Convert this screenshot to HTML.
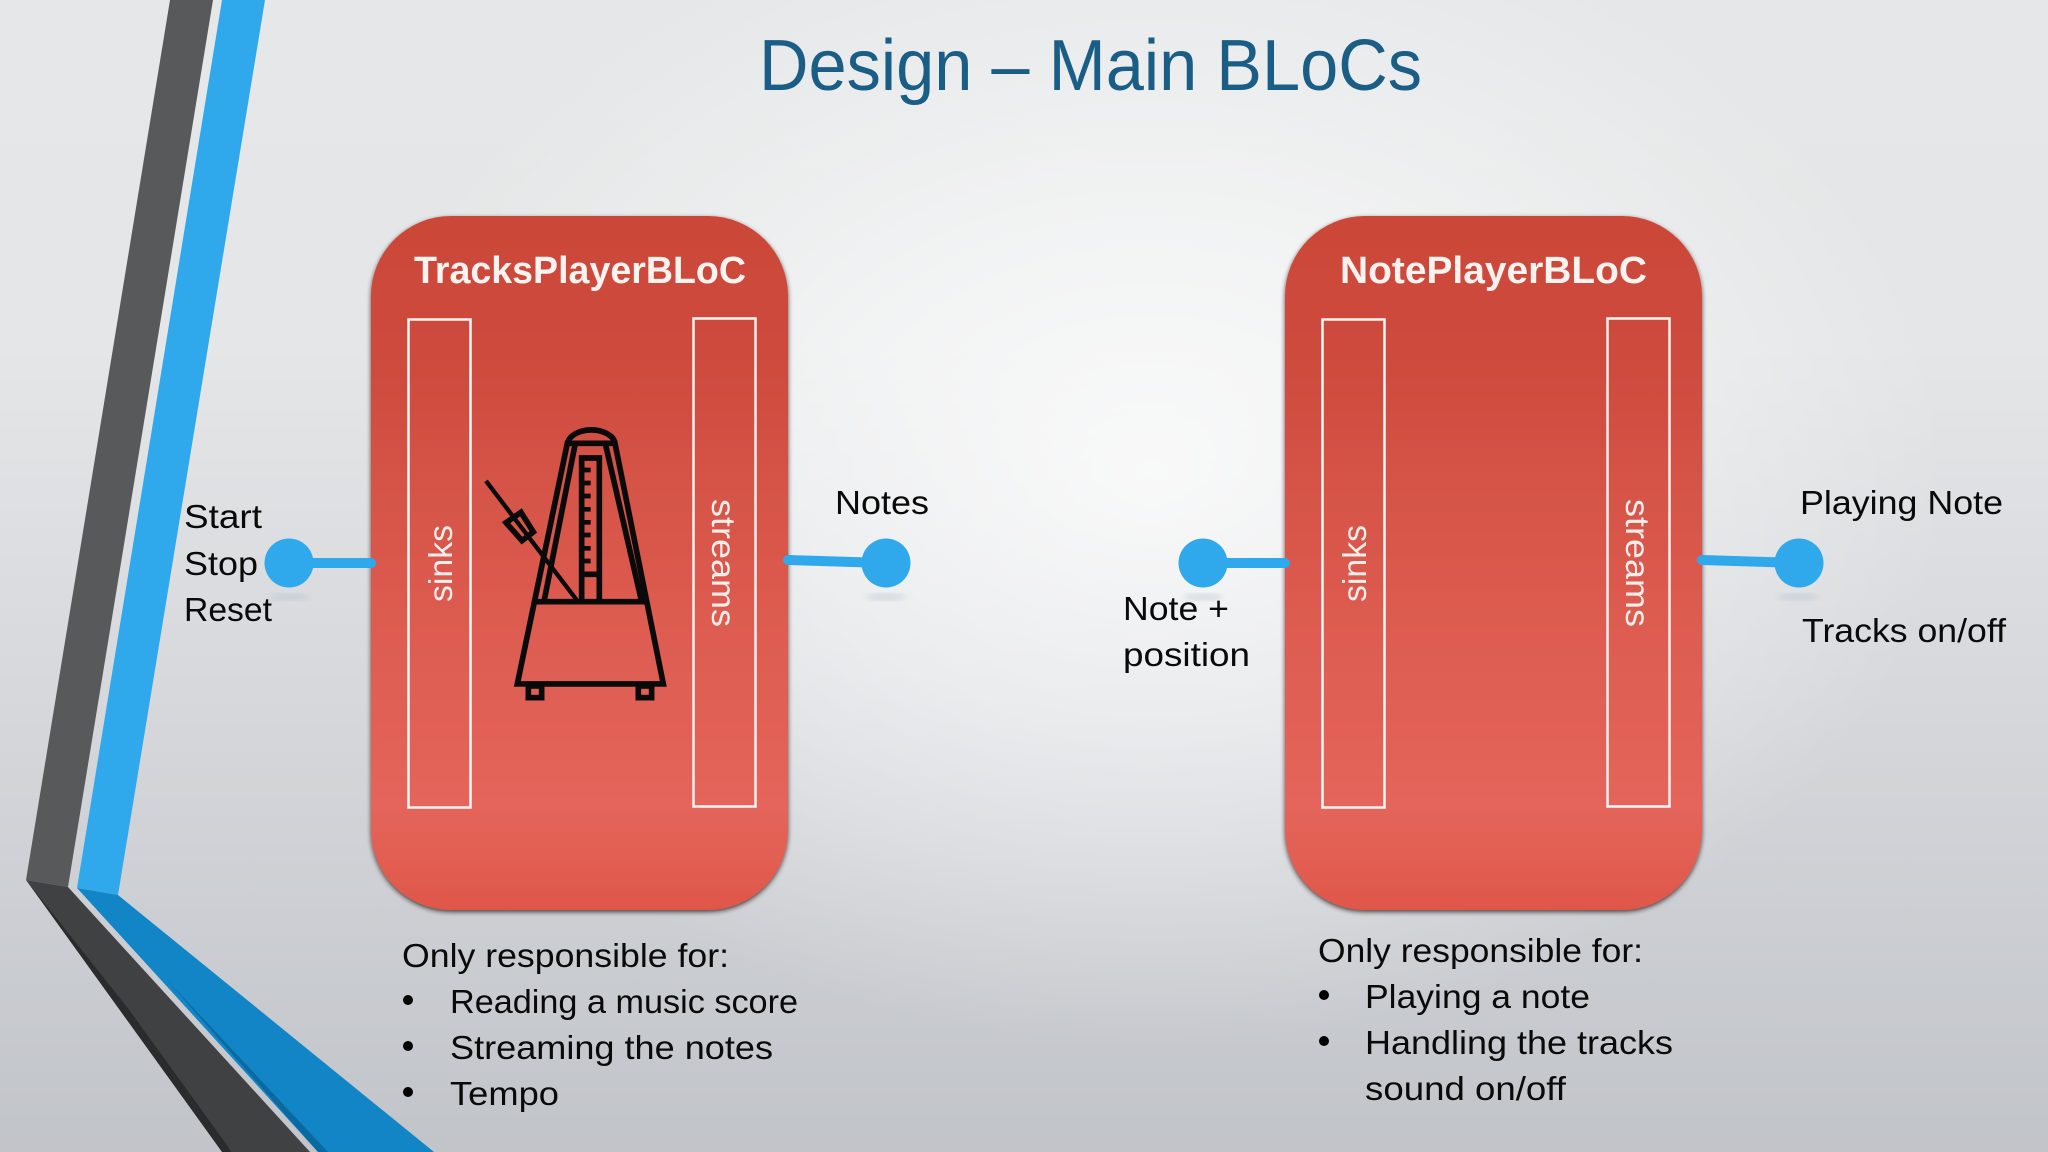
<!DOCTYPE html>
<html><head><meta charset="utf-8"><style>
html,body{margin:0;padding:0;background:#e0e2e4}
svg{display:block}
text{font-family:"Liberation Sans",sans-serif}
.b{font-size:33px;fill:#0a0a0a}
.w{font-size:33px;fill:#f8efec}
</style></head><body>
<svg width="2048" height="1152" viewBox="0 0 2048 1152" xmlns="http://www.w3.org/2000/svg">
<defs>
<linearGradient id="bg0" x1="0" y1="0" x2="0" y2="1">
<stop offset="0" stop-color="#e5e7e8"/><stop offset=".3" stop-color="#e4e6e7"/><stop offset=".6" stop-color="#d6d8dc"/><stop offset="1" stop-color="#c1c4c9"/></linearGradient>
<radialGradient id="bg" gradientUnits="userSpaceOnUse" cx="1150" cy="470" r="800" gradientTransform="translate(1150 470) scale(1 .72) translate(-1150 -470)">
<stop offset="0" stop-color="#fff" stop-opacity=".8"/><stop offset=".45" stop-color="#fff" stop-opacity=".5"/><stop offset="1" stop-color="#fff" stop-opacity="0"/></radialGradient>
<linearGradient id="card" x1="0" y1="0" x2="0" y2="1">
<stop offset="0" stop-color="#cb4638"/><stop offset=".2" stop-color="#cd4b3d"/><stop offset=".55" stop-color="#dc5a4f"/><stop offset=".85" stop-color="#e5655b"/><stop offset="1" stop-color="#df5749"/></linearGradient>
<filter id="sh" x="-10%" y="-10%" width="120%" height="120%"><feDropShadow dx="0" dy="2" stdDeviation="2.5" flood-color="#2a1515" flood-opacity=".8"/></filter>
<filter id="bl"><feGaussianBlur stdDeviation="3"/></filter>
<g id="mt" fill="none" stroke="#0a0a0a" stroke-width="17" stroke-linejoin="miter">
<path d="M172 852H610L465 130H322Z"/>
<path d="M323 128A72 46 0 0 1 465 128"/>
<path d="M225 605H560"/>
<path d="M345 135L252 605M437 135L545 605"/>
<path d="M365 605V174H418V605M365 523H418"/>
<path d="M368 210H392M368 249H392M368 288H392M368 328H392M368 367H392M368 405H392M368 445H392M368 483H392" stroke-width="14"/>
<path d="M78 243L350 600" stroke-width="13"/>
<path d="M183 337L220 396L186 422L138 368Z"/>
<rect x="205" y="858" width="40" height="35"/>
<rect x="535" y="858" width="40" height="35"/>
</g>
</defs>
<rect width="2048" height="1152" fill="url(#bg0)"/>
<rect width="2048" height="1152" fill="url(#bg)"/>
<polygon points="170,0 213,0 68,887 26,880" fill="#58595b"/>
<polygon points="222,0 265,0 118,895 77,888" fill="#2fa9ec"/>
<polygon points="26,880 68,887 310,1152 232,1152" fill="#404143"/>
<polygon points="26,880 127,1007 232,1152 222,1152" fill="#2a2b2d"/>
<polygon points="77,888 118,895 434,1152 318,1152" fill="#1285c6"/>
<polygon points="167,980 328,1152 318,1152" fill="#0a6a9f"/>

<text x="759" y="90" font-size="72" fill="#1a5e86" textLength="663" lengthAdjust="spacingAndGlyphs">Design – Main BLoCs</text>

<rect x="371" y="216" width="417" height="694" rx="80" fill="url(#card)" filter="url(#sh)"/>
<rect x="1285" y="216" width="417" height="694" rx="80" fill="url(#card)" filter="url(#sh)"/>

<text x="414" y="283" font-size="38" font-weight="bold" fill="#fbf3f0" textLength="332" lengthAdjust="spacingAndGlyphs">TracksPlayerBLoC</text>
<text x="1340" y="283" font-size="38" font-weight="bold" fill="#fbf3f0" textLength="307" lengthAdjust="spacingAndGlyphs">NotePlayerBLoC</text>

<g fill="none" stroke="#fdf6f4" stroke-width="2.5">
<rect x="408.5" y="319.5" width="62" height="488"/>
<rect x="693.5" y="318.5" width="62" height="488"/>
<rect x="1322.5" y="319.5" width="62" height="488"/>
<rect x="1607.5" y="318.5" width="62" height="488"/>
</g>

<text class="w" transform="translate(452 602) rotate(-90)" textLength="77" lengthAdjust="spacingAndGlyphs">sinks</text>
<text class="w" transform="translate(712 499) rotate(90)" textLength="128" lengthAdjust="spacingAndGlyphs">streams</text>
<text class="w" transform="translate(1366 602) rotate(-90)" textLength="77" lengthAdjust="spacingAndGlyphs">sinks</text>
<text class="w" transform="translate(1626 499) rotate(90)" textLength="128" lengthAdjust="spacingAndGlyphs">streams</text>

<use href="#mt" transform="translate(460 400) scale(.3333)"/>

<g fill="#a9bccb" opacity=".4" filter="url(#bl)">
<ellipse cx="289" cy="597" rx="20" ry="3.5"/><ellipse cx="886" cy="597" rx="20" ry="3.5"/>
<ellipse cx="1203" cy="597" rx="20" ry="3.5"/><ellipse cx="1798" cy="597" rx="20" ry="3.5"/>
</g>
<g stroke="#2fa9ec" stroke-width="10" stroke-linecap="round" fill="none">
<path d="M289 563H371"/><path d="M788 560L885 563"/>
<path d="M1203 563H1285"/><path d="M1702 560L1798 563"/>
</g>
<g fill="#2fa9ec">
<circle cx="289" cy="563" r="24.5"/><circle cx="886" cy="563" r="24.5"/>
<circle cx="1203" cy="563" r="24.5"/><circle cx="1799" cy="563" r="24.5"/>
</g>

<text class="b" x="184" y="528" textLength="78" lengthAdjust="spacingAndGlyphs">Start</text>
<text class="b" x="184" y="575" textLength="74" lengthAdjust="spacingAndGlyphs">Stop</text>
<text class="b" x="184" y="621" textLength="88" lengthAdjust="spacingAndGlyphs">Reset</text>
<text class="b" x="835" y="514" textLength="94" lengthAdjust="spacingAndGlyphs">Notes</text>
<text class="b" x="1123" y="620" textLength="106" lengthAdjust="spacingAndGlyphs">Note +</text>
<text class="b" x="1123" y="666" textLength="127" lengthAdjust="spacingAndGlyphs">position</text>
<text class="b" x="1800" y="514" textLength="203" lengthAdjust="spacingAndGlyphs">Playing Note</text>
<text class="b" x="1802" y="642" textLength="204" lengthAdjust="spacingAndGlyphs">Tracks on/off</text>

<text class="b" x="402" y="967" textLength="327" lengthAdjust="spacingAndGlyphs">Only responsible for:</text>
<text class="b" x="450" y="1013" textLength="348" lengthAdjust="spacingAndGlyphs">Reading a music score</text>
<text class="b" x="450" y="1059" textLength="323" lengthAdjust="spacingAndGlyphs">Streaming the notes</text>
<text class="b" x="450" y="1105" textLength="109" lengthAdjust="spacingAndGlyphs">Tempo</text>
<circle cx="408" cy="1000" r="5"/><circle cx="408" cy="1046" r="5"/><circle cx="408" cy="1092" r="5"/>

<text class="b" x="1318" y="962" textLength="325" lengthAdjust="spacingAndGlyphs">Only responsible for:</text>
<text class="b" x="1365" y="1008" textLength="225" lengthAdjust="spacingAndGlyphs">Playing a note</text>
<text class="b" x="1365" y="1054" textLength="308" lengthAdjust="spacingAndGlyphs">Handling the tracks</text>
<text class="b" x="1365" y="1100" textLength="201" lengthAdjust="spacingAndGlyphs">sound on/off</text>
<circle cx="1324" cy="995" r="5"/><circle cx="1324" cy="1041" r="5"/>
</svg>
</body></html>
